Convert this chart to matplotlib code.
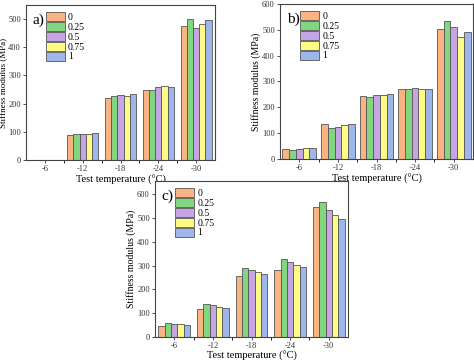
import matplotlib
matplotlib.use('Agg')
import matplotlib.pyplot as plt
import numpy as np

plt.rcParams['font.family'] = ['Liberation Serif', 'DejaVu Serif']

temps = ['-6', '-12', '-18', '-24', '-30']
contents = ['0', '0.25', '0.5', '0.75', '1']
colors = ['#F9B482', '#82D67F', '#C6A5E4', '#FCFC84', '#9EB6EA']

# stiffness modulus (MPa), rows = content, cols = temperature
stiff_a = [[0, 88, 219, 250, 476],
           [0, 91, 227, 248, 500],
           [0, 92, 229, 258, 470],
           [0, 93, 228, 263, 482],
           [0, 96, 235, 258, 496]]
stiff_b = [[39, 135, 243, 272, 503],
           [34, 119, 240, 270, 534],
           [39, 124, 248, 276, 512],
           [41, 132, 249, 272, 474],
           [41, 134, 252, 272, 490]]
stiff_c = [[48, 117, 256, 280, 544],
           [58, 138, 289, 329, 565],
           [56, 135, 281, 315, 534],
           [53, 125, 273, 301, 512],
           [49, 121, 264, 292, 496]]

W, H = 474, 363


def px_axes(fig, left, top, width, height):
    return fig.add_axes([left / W, 1 - (top + height) / H, width / W, height / H])


def draw_panel(ax, data, tag, ymax, yticks, bw, xpad=1.5):
    x = np.arange(len(temps))
    n = len(contents)
    for i, (lab, vals) in enumerate(zip(contents, data)):
        ax.bar(x + (i - (n - 1) / 2) * bw, vals, bw, color=colors[i],
               edgecolor='#555555', linewidth=0.6, label=lab)
    ax.set_xlim(-0.5, 4.5)
    ax.set_ylim(0, ymax)
    ax.set_xticks(x)
    ax.set_xticklabels(temps)
    ax.set_xticks(np.arange(len(temps) - 1) + 0.5, minor=True)
    ax.set_yticks(yticks)
    ax.tick_params(labelsize=6, length=2.5, width=0.6, pad=1.2, colors='#333333')
    ax.tick_params(which='minor', length=2, width=0.6)
    for s in ax.spines.values():
        s.set_color('#444444')
        s.set_linewidth(0.8)
    ax.set_ylabel('Stiffness modulus (MPa)', fontsize=7, labelpad=1)
    ax.set_xlabel('Test temperature (\u00b0C)', fontsize=7.5, labelpad=xpad)
    leg = ax.legend(loc='upper left', bbox_to_anchor=(0.065, 1.0), frameon=False,
                    fontsize=7, handlelength=2.0, handleheight=1.05,
                    labelspacing=0.0, handletextpad=0.3, borderaxespad=0.35)
    for h in leg.legend_handles:
        h.set_edgecolor('#555555')
    ax.text(0.035, 0.9, tag, transform=ax.transAxes, fontsize=11,
            ha='left', va='center')


fig = plt.figure(figsize=(W / 100, H / 100), dpi=100)

ax_a = px_axes(fig, 26, 5, 189, 155)
draw_panel(ax_a, stiff_a, 'a)', 550, range(0, 501, 100), 0.165)
ax_a.set_ylabel('Stiffness modulus (MPa)', fontsize=6.5, labelpad=0.5)

ax_b = px_axes(fig, 280, 4, 193, 155)
draw_panel(ax_b, stiff_b, 'b)', 600, range(0, 601, 100), 0.175)

ax_c = px_axes(fig, 155, 181, 193, 156)
draw_panel(ax_c, stiff_c, 'c)', 655, range(0, 601, 100), 0.165, xpad=0.5)

fig.savefig('out.png', dpi=100)
